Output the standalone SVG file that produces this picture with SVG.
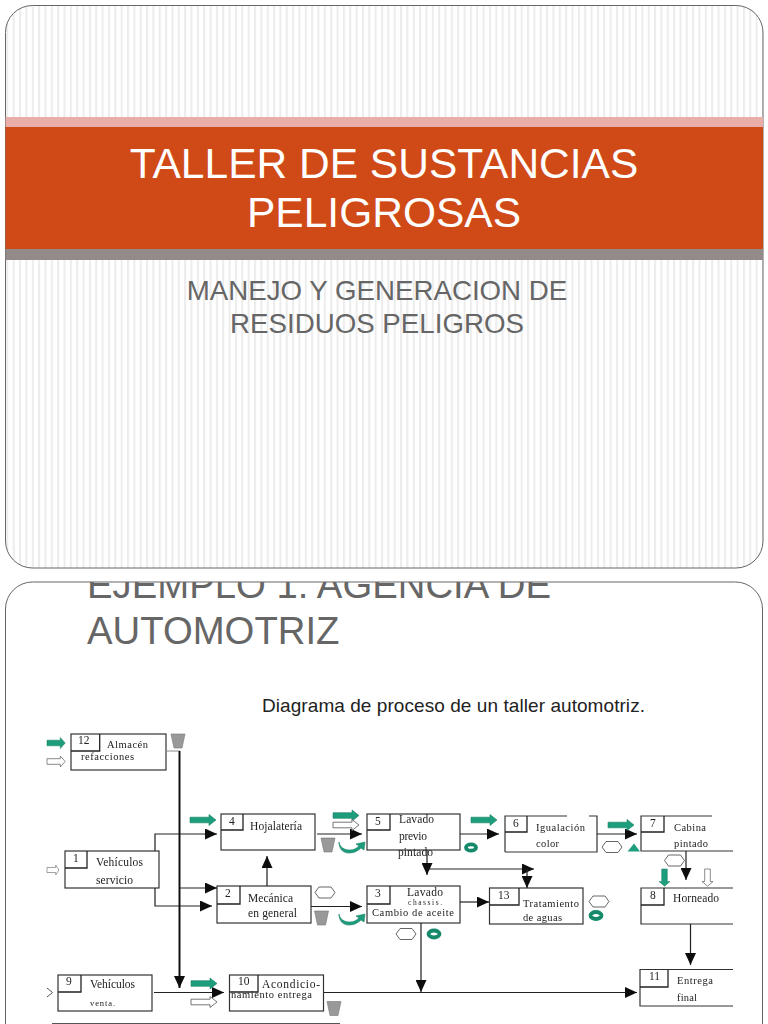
<svg xmlns="http://www.w3.org/2000/svg" width="768" height="1024" viewBox="0 0 768 1024">
<style>
.sl{font-family:"Liberation Sans",Arial,sans-serif}
.t{font-family:"Liberation Serif","Times New Roman",serif;font-size:11.500px;fill:#222}
.m{font-size:10.500px}
.b{fill:#fff;stroke:#333;stroke-width:1.2}
.o{fill:none;stroke:#333;stroke-width:1.2}
.s{fill:none;stroke:#222;stroke-width:1.3}
.c{fill:none;stroke:#222;stroke-width:1.2}
.k{fill:none;stroke:#111;stroke-width:2}
.g{fill:#1f9e7c;stroke:#1a7d63;stroke-width:.6}
.w{fill:#fff;stroke:#666;stroke-width:.9}
.h{fill:#fff;stroke:#666;stroke-width:1}
.d{fill:none;stroke:#13896b;stroke-width:3.800}
.tr{fill:#999;stroke:#777;stroke-width:.6}
</style>
<defs>
<pattern id="st" width="6.35" height="10" patternUnits="userSpaceOnUse"><rect width="6.35" height="10" fill="#fff"/><rect x="0" width="2" height="10" fill="#ececec"/></pattern>
<clipPath id="c2"><rect x="0" y="582" width="768" height="442"/></clipPath>
<filter id="bl" x="-2%" y="-2%" width="104%" height="104%"><feGaussianBlur stdDeviation="0.4"/></filter>
<marker id="a" markerUnits="userSpaceOnUse" markerWidth="12" markerHeight="11" refX="12" refY="5.500" orient="auto"><path d="M0 0L12 5.500L0 11Z" fill="#111"/></marker>
<path id="ga" d="M0 -2.800H19V-5.500L26 0L19 5.500V2.800H0Z"/>
<path id="hx" d="M-10 0L-6 -5.500H6L10 0L6 5.500H-6Z"/>
<path id="tc" d="M0 0H14L11 14H3Z"/>
<path id="cv" d="M0 0C1 6 6 8 11 8C15 8 18 6 20 4L17 2L26 0L25 8L22 6C19 9 15 11 10 11C4 11 0 7 0 0Z"/>
</defs>
<rect width="768" height="1024" fill="#fff"/>
<g id="slide1">
<rect x="5.500" y="5.500" width="757.500" height="562.500" rx="27" fill="url(#st)" stroke="#666" stroke-width="1"/>
<rect x="5.500" y="117" width="757.500" height="10" fill="#e8aea7"/>
<rect x="5.500" y="127" width="757.500" height="122" fill="#d04a17"/>
<rect x="5.500" y="249" width="757.500" height="11" fill="#938a8a"/>
<text class="sl" x="384" y="178" font-size="42.500" fill="#fff" text-anchor="middle">TALLER DE SUSTANCIAS</text>
<text class="sl" x="384" y="227" font-size="42.500" fill="#fff" text-anchor="middle">PELIGROSAS</text>
<text class="sl" x="377" y="300" font-size="27.700" fill="#666" text-anchor="middle">MANEJO Y GENERACION DE</text>
<text class="sl" x="377" y="333" font-size="27.700" fill="#666" text-anchor="middle">RESIDUOS PELIGROS</text>
</g>
<g id="slide2">
<path d="M5.500 1030V609A27 27 0 0 1 32.500 582H735.500A27 27 0 0 1 762.500 609V1030" fill="#fff" stroke="#666" stroke-width="1"/>
<g clip-path="url(#c2)"><text class="sl" x="87" y="598" font-size="38.300" fill="#666">EJEMPLO 1: AGENCIA DE</text></g>
<text class="sl" x="87" y="644" font-size="38.300" fill="#666">AUTOMOTRIZ</text>
<text class="sl" x="262" y="712" font-size="19" fill="#222" textLength="383">Diagrama de proceso de un taller automotriz.</text>
</g>
<g filter="url(#bl)">
<g id="n12"><rect class="b" x="71" y="734" width="95" height="36"/><path class="s" d="M99.700 734V751H71"/><text class="t" x="78" y="744">12</text><text class="t m" x="107" y="748" textLength="41">Almacén</text><text class="t m" x="81" y="759.500" textLength="53">refacciones</text></g>
<g id="n1"><rect class="b" x="65" y="851" width="94" height="37"/><path class="s" d="M87 851V868H65"/><text class="t" x="73" y="862">1</text><text class="t" x="96" y="866" textLength="47">Vehículos</text><text class="t" x="96" y="884" textLength="37">servicio</text></g>
<g id="n4"><rect class="b" x="221" y="814" width="94" height="36"/><path class="s" d="M243 814V830H221"/><text class="t" x="229" y="825">4</text><text class="t" x="250" y="830" textLength="52">Hojalatería</text></g>
<g id="n2"><rect class="b" x="217" y="886" width="94" height="37"/><path class="s" d="M240 886V904H217"/><text class="t" x="225" y="897">2</text><text class="t" x="248" y="902" textLength="45">Mecánica</text><text class="t" x="248" y="917" textLength="49">en general</text></g>
<g id="n5"><rect class="b" x="367" y="814" width="93" height="36"/><path class="s" d="M390 814V830H367"/><text class="t" x="375" y="825">5</text><text class="t" x="399" y="823" textLength="35">Lavado</text><text class="t" x="399" y="840" textLength="28">previo</text><text class="t" x="398" y="856" textLength="35">pintado</text></g>
<g id="n3"><rect class="b" x="367" y="886" width="93" height="37"/><path class="s" d="M390 886V904H367"/><text class="t" x="375" y="897">3</text><text class="t" x="407" y="896" textLength="36">Lavado</text><text class="t" x="408" y="904.500" style="font-size:7.500px" textLength="34" fill="#555">chassis.</text><text class="t m" x="372" y="916" textLength="82">Cambio de aceite</text></g>
<g id="n6"><path class="o" d="M505 852V816H567M589 816H597V852H505"/><path class="s" d="M527 816V832H505"/><text class="t" x="513" y="827">6</text><text class="t m" x="536" y="831" textLength="49">Igualación</text><text class="t m" x="536" y="847" textLength="23">color</text></g>
<g id="n13"><rect class="b" x="489.500" y="888" width="93.500" height="36"/><path class="s" d="M519 888V905H489.500"/><text class="t" x="498" y="899">13</text><text class="t m" x="523" y="907" textLength="56">Tratamiento</text><text class="t m" x="523" y="921" textLength="39">de aguas</text></g>
<g id="n7"><path class="o" d="M712 816H641V851H733"/><path class="s" d="M664 816V832H641"/><text class="t" x="650" y="827">7</text><text class="t m" x="674" y="831" textLength="32">Cabina</text><text class="t m" x="674" y="847" textLength="34">pintado</text></g>
<g id="n8"><path class="o" d="M733 888H641V924H733"/><path class="s" d="M664 888V905H641"/><text class="t" x="650" y="899">8</text><text class="t" x="673" y="902" textLength="46">Horneado</text></g>
<g id="n11"><path class="o" d="M733 969.500H640V1006H733"/><path class="s" d="M668 969.500V987H640"/><text class="t" x="649" y="980">11</text><text class="t m" x="677" y="984" textLength="36">Entrega</text><text class="t m" x="677" y="1001" textLength="20">final</text></g>
<g id="n9"><rect class="b" x="58" y="975" width="94" height="36"/><path class="s" d="M81 975V992H58"/><text class="t" x="66" y="985">9</text><text class="t" x="90" y="988" textLength="45">Vehículos</text><text class="t" x="90" y="1006" style="font-size:8.500px" textLength="25">venta.</text></g>
<g id="n10"><rect class="b" x="229.500" y="975" width="94" height="36"/><path class="s" d="M258 975V992H229.500"/><text class="t" x="238" y="985">10</text><text class="t" x="262" y="988" textLength="58">Acondicio-</text><text class="t m" x="231" y="998" textLength="81">namiento entrega</text></g>
<g id="connectors">
<path d="M166 751H180" stroke="#888" stroke-width="1" fill="none"/>
<path class="k" d="M179.500 751V988" marker-end="url(#a)"/>
<path class="c" d="M155 851V834H217" marker-end="url(#a)"/>
<path class="c" d="M155 888V906H212" marker-end="url(#a)"/>
<path class="c" d="M180 888H217" marker-end="url(#a)"/>
<path class="c" d="M267 886V856" marker-end="url(#a)"/>
<path class="c" d="M154 992.500H224" marker-end="url(#a)"/>
<path class="c" d="M317 834H362" marker-end="url(#a)"/>
<path class="c" d="M460 834H499" marker-end="url(#a)"/>
<path class="c" d="M427 850V875" marker-end="url(#a)"/>
<path class="c" d="M427 869H534" marker-end="url(#a)"/>
<path class="c" d="M527 869V888" marker-end="url(#a)"/>
<path class="c" d="M311 906.500H362" marker-end="url(#a)"/>
<path class="c" d="M460 902H489" marker-end="url(#a)"/>
<path class="c" d="M421 923V992" marker-end="url(#a)"/>
<path class="c" d="M324 992.500H637" marker-end="url(#a)"/>
<path class="c" d="M597 834H637" marker-end="url(#a)"/>
<path class="c" d="M686 851V880" marker-end="url(#a)"/>
<path class="c" d="M690.500 924V965" marker-end="url(#a)"/>
</g>
<g id="symbols">
<use href="#ga" class="g" transform="translate(47 743) scale(.7 1)"/>
<use href="#ga" class="w" transform="translate(47 761.500) scale(.7 1)"/>
<use href="#ga" class="w" transform="translate(47 870) scale(.46 .9)"/>
<path d="M47 988L52.500 992.500L47 997" fill="none" stroke="#555"/>
<use href="#ga" class="g" transform="translate(190 820)"/>
<use href="#ga" class="g" transform="translate(191 983.500)"/>
<use href="#ga" class="w" transform="translate(191 1002)"/>
<use href="#ga" class="g" transform="translate(333 815.500)"/>
<use href="#ga" class="w" transform="translate(333 825)"/>
<use href="#ga" class="g" transform="translate(471 820)"/>
<use href="#ga" class="g" transform="translate(608 825)"/>
<use href="#ga" class="g" transform="translate(664.500 869) rotate(90) scale(.66 1)"/>
<use href="#ga" class="w" transform="translate(707.500 869) rotate(90) scale(.66 1)"/>
<path d="M627.500 851.500L634 843.500L640 851.500Z" fill="#1f9e7c"/>
<use href="#tc" class="tr" transform="translate(171 734)"/>
<use href="#tc" class="tr" transform="translate(321 838)"/>
<use href="#tc" class="tr" transform="translate(314.500 911)"/>
<use href="#tc" class="tr" transform="translate(327 1001.500)"/>
<use href="#cv" class="g" transform="translate(339 842)"/>
<use href="#cv" class="g" transform="translate(339 914)"/>
<use href="#hx" class="h" transform="translate(325 892.500)"/>
<use href="#hx" class="h" transform="translate(406 934)"/>
<use href="#hx" class="h" transform="translate(612 847)"/>
<use href="#hx" class="h" transform="translate(599 901.500)"/>
<use href="#hx" class="h" transform="translate(674.500 860.500)"/>
<ellipse class="d" cx="471" cy="847.500" rx="5" ry="3.200"/>
<ellipse class="d" cx="434" cy="934" rx="5.500" ry="3.500"/>
<ellipse class="d" cx="596" cy="915.500" rx="5.500" ry="3.500"/>
<path d="M52 1023.500H340" stroke="#555" stroke-width="1" fill="none"/>
</g>
</g>
</svg>
